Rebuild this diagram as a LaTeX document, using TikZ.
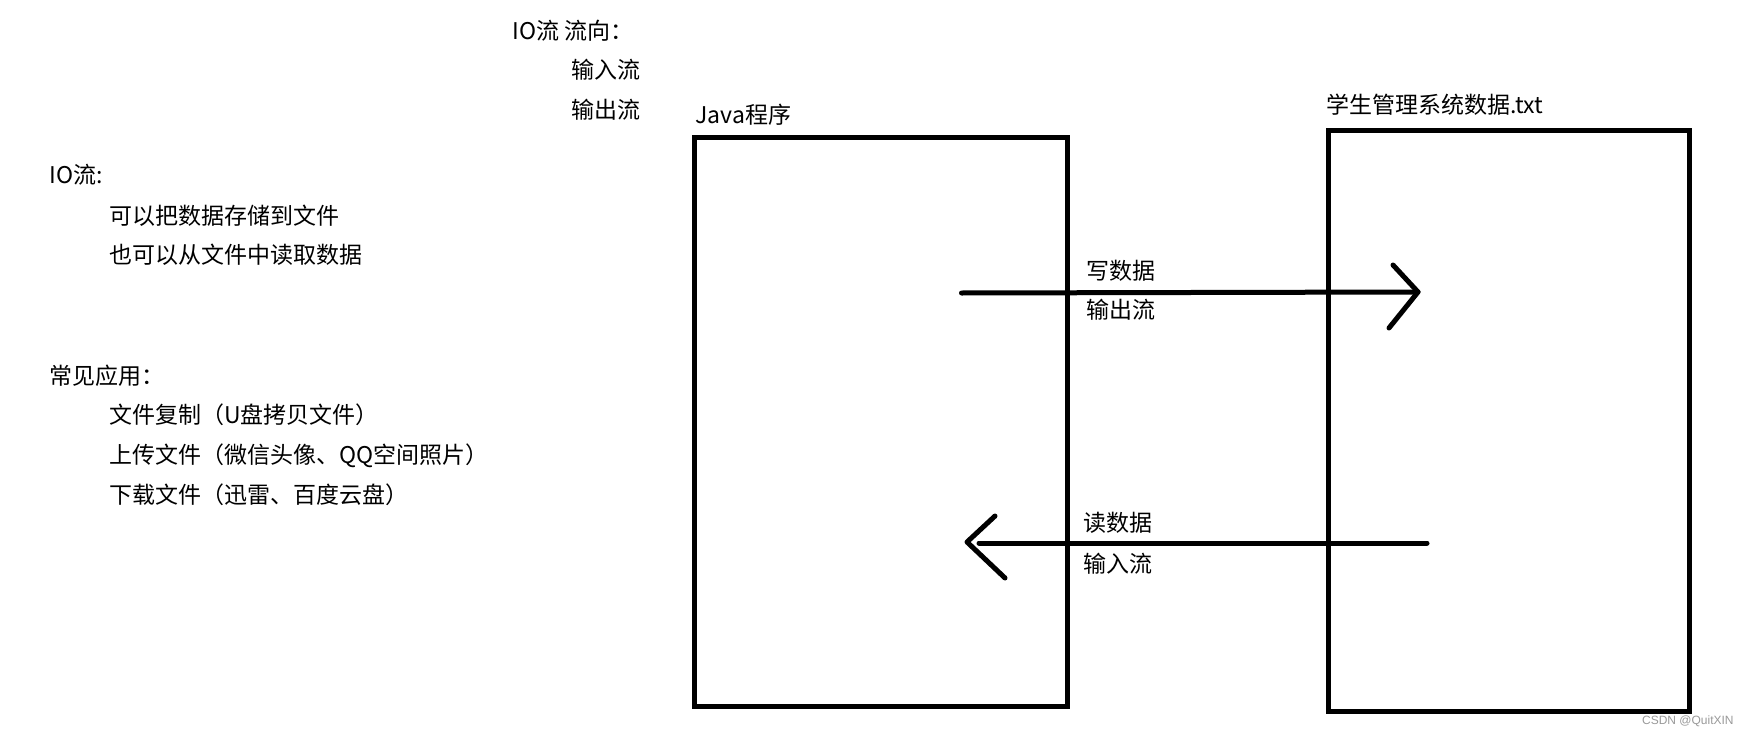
\documentclass[tikz,border=0pt]{standalone}
\usepackage{fontspec}
\setmainfont{Noto Sans CJK SC}
\newfontfamily\wmfont{Liberation Sans}
\begin{document}
\begin{tikzpicture}[x=0.5pt,y=-0.5pt,
  txt/.style={anchor=west,inner sep=0pt,text height=0.88em,text depth=0.12em,font=\fontsize{11.5pt}{14pt}\selectfont},
  frame/.style={draw,line width=2.5pt,rectangle,inner sep=0pt},
  stroke/.style={line width=2.5pt,line cap=round,line join=round}]
\useasboundingbox (0,0) rectangle (1749,738);
% top-left legend
\node[txt] (flowdir) at (512,32) {IO流 流向：};
\node[txt] (inflow) at (571,71) {输入流};
\node[txt] (outflow) at (571,111) {输出流};
\node[txt] (io) at (49,176) {IO流:};
\node[txt] (io1) at (109,217) {可以把数据存储到文件};
\node[txt] (io2) at (109,256) {也可以从文件中读取数据};
\node[txt] (app) at (49,377) {常见应用：};
\node[txt] (app1) at (109,416) {文件复制（U盘拷贝文件）};
\node[txt] (app2) at (109,456) {上传文件（微信头像、QQ空间照片）};
\node[txt] (app3) at (109,496) {下载文件（迅雷、百度云盘）};
% boxes
\node[frame,minimum width=186.5pt,minimum height=284.5pt] (java) at (881,422) {};
\node[frame,minimum width=180.5pt,minimum height=290.75pt] (file) at (1509,420.75) {};
\node[txt] (javalbl) at (695,116) {Java程序};
\node[txt] (filelbl) at (1326,106) {学生管理系统数据.txt};
% write arrow
\coordinate (w0) at (961.5,293);
\coordinate (w1) at (1418,292);
\coordinate (wa) at (1393,265);
\coordinate (wb) at (1389,328);
\draw[stroke] (w0) -- (w1);
\draw[stroke] (wa) -- (w1) -- (wb);
\node[txt] (wlbl) at (1086,272) {写数据};
\node[txt] (wlbl2) at (1086,311) {输出流};
% read arrow
\coordinate (r0) at (1427,543);
\coordinate (r1) at (979,543);
\coordinate (rt) at (967,542);
\coordinate (ra) at (995,516);
\coordinate (rb) at (1005,578);
\draw[stroke] (r0) -- (r1);
\draw[stroke] (ra) -- (rt) -- (rb);
\node[txt] (rlbl) at (1083,524) {读数据};
\node[txt] (rlbl2) at (1083,565) {输入流};
% watermark
\node[anchor=east,inner sep=0pt,text=black!40,font=\wmfont\fontsize{6pt}{7pt}\selectfont] (wm) at (1734,721.5) {CSDN @QuitXIN};
\end{tikzpicture}
\end{document}
